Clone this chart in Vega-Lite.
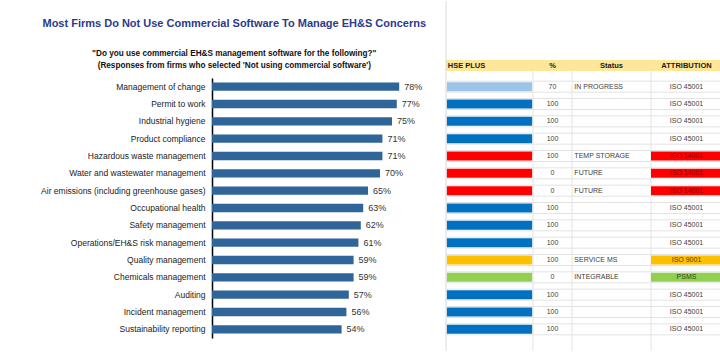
{
  "$schema": "https://vega.github.io/schema/vega-lite/v6.json",
  "background": "white",
  "padding": {"left": 40, "top": 0, "right": 0, "bottom": 0},
  "spacing": 17,
  "config": {"view": {"stroke": null}, "text": {"font": "Liberation Sans"}},
  "data": {"values": [
    {"row": 1, "item": "Management of change", "share": 0.78, "standard": "ISO 45001 in progress", "hse_pct": 70, "status": "IN PROGRESS", "attribution": "ISO 45001"},
    {"row": 2, "item": "Permit to work", "share": 0.77, "standard": "ISO 45001", "hse_pct": 100, "status": "", "attribution": "ISO 45001"},
    {"row": 3, "item": "Industrial hygiene", "share": 0.75, "standard": "ISO 45001", "hse_pct": 100, "status": "", "attribution": "ISO 45001"},
    {"row": 4, "item": "Product compliance", "share": 0.71, "standard": "ISO 45001", "hse_pct": 100, "status": "", "attribution": "ISO 45001"},
    {"row": 5, "item": "Hazardous waste management", "share": 0.71, "standard": "ISO 14001", "hse_pct": 100, "status": "TEMP STORAGE", "attribution": "ISO 14001"},
    {"row": 6, "item": "Water and wastewater management", "share": 0.70, "standard": "ISO 14001", "hse_pct": 0, "status": "FUTURE", "attribution": "ISO 14001"},
    {"row": 7, "item": "Air emissions (including greenhouse gases)", "share": 0.65, "standard": "ISO 14001", "hse_pct": 0, "status": "FUTURE", "attribution": "ISO 14001"},
    {"row": 8, "item": "Occupational health", "share": 0.63, "standard": "ISO 45001", "hse_pct": 100, "status": "", "attribution": "ISO 45001"},
    {"row": 9, "item": "Safety management", "share": 0.62, "standard": "ISO 45001", "hse_pct": 100, "status": "", "attribution": "ISO 45001"},
    {"row": 10, "item": "Operations/EH&S risk management", "share": 0.61, "standard": "ISO 45001", "hse_pct": 100, "status": "", "attribution": "ISO 45001"},
    {"row": 11, "item": "Quality management", "share": 0.59, "standard": "ISO 9001", "hse_pct": 100, "status": "SERVICE MS", "attribution": "ISO 9001"},
    {"row": 12, "item": "Chemicals management", "share": 0.59, "standard": "PSMS", "hse_pct": 0, "status": "INTEGRABLE", "attribution": "PSMS"},
    {"row": 13, "item": "Auditing", "share": 0.57, "standard": "ISO 45001", "hse_pct": 100, "status": "", "attribution": "ISO 45001"},
    {"row": 14, "item": "Incident management", "share": 0.56, "standard": "ISO 45001", "hse_pct": 100, "status": "", "attribution": "ISO 45001"},
    {"row": 15, "item": "Sustainability reporting", "share": 0.54, "standard": "ISO 45001", "hse_pct": 100, "status": "", "attribution": "ISO 45001"}
  ]},
  "hconcat": [
    {
      "width": 216,
      "height": 260,
      "title": {
        "text": "Most Firms Do Not Use Commercial Software To Manage EH&S Concerns",
        "subtitle": ["\"Do you use commercial EH&S management software for the following?\"", "(Responses from firms who selected 'Not using commercial software')"],
        "anchor": "middle",
        "frame": "bounds",
        "font": "Liberation Sans",
        "fontSize": 11,
        "fontWeight": "bold",
        "color": "#2d3a8c",
        "subtitleFont": "Liberation Sans",
        "subtitleFontSize": 8.2,
        "subtitleFontWeight": "bold",
        "subtitleColor": "#111111",
        "subtitlePadding": 21,
        "subtitleLineHeight": 12,
        "offset": 9
      },
      "encoding": {
        "y": {
          "field": "item", "type": "nominal",
          "sort": {"field": "row", "op": "min", "order": "ascending"},
          "scale": {"paddingInner": 0.52, "paddingOuter": 0.26},
          "title": null,
          "axis": {"ticks": false, "domainColor": "#000000", "domainWidth": 1.5, "labelPadding": 7, "labelFont": "Liberation Sans", "labelFontSize": 8.5, "labelColor": "#222222", "labelLimit": 400}
        },
        "x": {"field": "share", "type": "quantitative", "scale": {"domain": [0, 0.9]}, "axis": null}
      },
      "layer": [
        {"mark": {"type": "bar", "color": "#2f6599"}},
        {"mark": {"type": "text", "align": "left", "baseline": "middle", "dx": 5, "font": "Liberation Sans", "fontSize": 9, "color": "#333333"},
         "encoding": {"text": {"field": "share", "type": "quantitative", "format": ".0%"}}}
      ]
    },
    {
      "width": 276,
      "height": 260,
      "layer": [
        {
          "data": {"values": [{}]},
          "mark": {"type": "rect", "color": "#ffe699"},
          "encoding": {
            "x": {"datum": 0, "type": "quantitative", "scale": {"type": "linear", "domain": [0, 1, 2, 3, 4], "range": [0, 87, 126, 205, 276], "nice": false, "zero": false, "padding": 0}, "axis": null},
            "x2": {"datum": 4},
            "y": {"datum": -0.54, "type": "quantitative", "scale": {"domain": [0.5, 15.5], "reverse": true, "nice": false, "zero": false, "padding": 0}, "axis": null},
            "y2": {"datum": 0.1}
          }
        },
        {
          "data": {"values": [{}]},
          "mark": {"type": "rule", "color": "#d9d9d9", "strokeWidth": 1},
          "encoding": {
            "x": {"datum": 0, "type": "quantitative"},
            "y": {"datum": -3.94, "type": "quantitative"},
            "y2": {"datum": 16.25}
          }
        },
        {
          "data": {"values": [{"column": 1}, {"column": 2}, {"column": 3}]},
          "mark": {"type": "rule", "color": "#e3e3e3", "strokeWidth": 1},
          "encoding": {
            "x": {"field": "column", "type": "quantitative"},
            "y": {"datum": 0.1, "type": "quantitative"},
            "y2": {"datum": 16.25}
          }
        },
        {
          "mark": {"type": "rule", "color": "#e3e3e3", "strokeWidth": 1, "yOffset": -5.5},
          "encoding": {
            "x": {"datum": 0, "type": "quantitative"},
            "x2": {"datum": 4},
            "y": {"field": "row", "type": "quantitative"}
          }
        },
        {
          "mark": {"type": "rule", "color": "#e3e3e3", "strokeWidth": 1, "yOffset": 5.5},
          "encoding": {
            "x": {"datum": 0, "type": "quantitative"},
            "x2": {"datum": 4},
            "y": {"field": "row", "type": "quantitative"}
          }
        },
        {
          "mark": {"type": "bar", "orient": "horizontal", "height": 9},
          "encoding": {
            "x": {"datum": 0.01, "type": "quantitative"},
            "x2": {"datum": 0.99},
            "y": {"field": "row", "type": "quantitative"},
            "color": {"field": "standard", "type": "nominal", "scale": {"domain": ["ISO 45001 in progress", "ISO 45001", "ISO 14001", "ISO 9001", "PSMS"], "range": ["#9dc3e6", "#0070c0", "#ff0000", "#ffc000", "#92d050"]}, "legend": null}
          }
        },
        {
          "transform": [{"filter": "datum.attribution != 'ISO 45001'"}],
          "mark": {"type": "bar", "orient": "horizontal", "height": 9},
          "encoding": {
            "x": {"datum": 3, "type": "quantitative"},
            "x2": {"datum": 4},
            "y": {"field": "row", "type": "quantitative"},
            "color": {"field": "standard", "type": "nominal", "legend": null}
          }
        },
        {
          "mark": {"type": "text", "align": "center", "baseline": "middle", "fontSize": 7, "color": "#404040"},
          "encoding": {
            "x": {"datum": 1.5, "type": "quantitative"},
            "y": {"field": "row", "type": "quantitative"},
            "text": {"field": "hse_pct", "type": "quantitative"}
          }
        },
        {
          "mark": {"type": "text", "align": "left", "baseline": "middle", "fontSize": 7, "color": "#404040"},
          "encoding": {
            "x": {"datum": 2.03, "type": "quantitative"},
            "y": {"field": "row", "type": "quantitative"},
            "text": {"field": "status", "type": "nominal"}
          }
        },
        {
          "mark": {"type": "text", "align": "center", "baseline": "middle", "fontSize": 7},
          "encoding": {
            "x": {"datum": 3.5, "type": "quantitative"},
            "y": {"field": "row", "type": "quantitative"},
            "text": {"field": "attribution", "type": "nominal"},
            "fill": {"field": "attribution", "type": "nominal", "scale": {"domain": ["ISO 45001", "ISO 14001", "ISO 9001", "PSMS"], "range": ["#404040", "#8a0000", "#4d3b00", "#2a4a1a"]}, "legend": null}
          }
        },
        {
          "data": {"values": [{}]},
          "mark": {"type": "text", "align": "left", "baseline": "middle", "fontSize": 7.5, "fontWeight": "bold", "color": "#1a1a1a", "text": "HSE PLUS"},
          "encoding": {"x": {"datum": 0.02, "type": "quantitative"}, "y": {"datum": -0.22, "type": "quantitative"}}
        },
        {
          "data": {"values": [{}]},
          "mark": {"type": "text", "align": "center", "baseline": "middle", "fontSize": 7.5, "fontWeight": "bold", "color": "#1a1a1a", "text": "%"},
          "encoding": {"x": {"datum": 1.5, "type": "quantitative"}, "y": {"datum": -0.22, "type": "quantitative"}}
        },
        {
          "data": {"values": [{}]},
          "mark": {"type": "text", "align": "center", "baseline": "middle", "fontSize": 7.5, "fontWeight": "bold", "color": "#1a1a1a", "text": "Status"},
          "encoding": {"x": {"datum": 2.5, "type": "quantitative"}, "y": {"datum": -0.22, "type": "quantitative"}}
        },
        {
          "data": {"values": [{}]},
          "mark": {"type": "text", "align": "center", "baseline": "middle", "fontSize": 7.5, "fontWeight": "bold", "color": "#1a1a1a", "text": "ATTRIBUTION"},
          "encoding": {"x": {"datum": 3.5, "type": "quantitative"}, "y": {"datum": -0.22, "type": "quantitative"}}
        }
      ]
    }
  ]
}
